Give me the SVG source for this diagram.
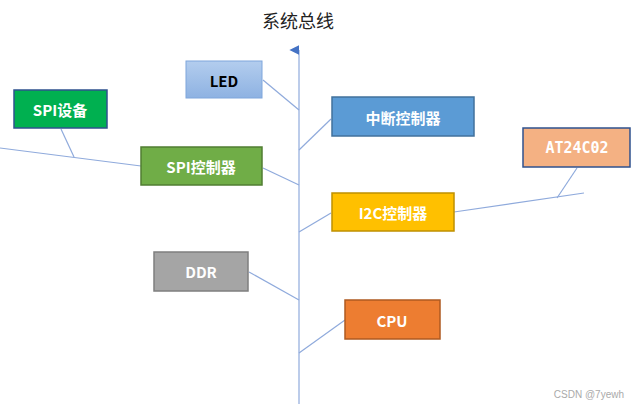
<svg xmlns="http://www.w3.org/2000/svg" width="631" height="404" viewBox="0 0 631 404">
<style>
.c line{stroke:#8faadc;stroke-width:1.2}
.n text{font-family:"Noto Sans CJK SC","Liberation Sans",sans-serif;font-weight:bold;font-size:15px;fill:#fff;text-anchor:middle;dominant-baseline:central}
.m{font-family:"DejaVu Sans Mono","Liberation Mono",monospace!important}
</style>
<defs>
<linearGradient id="g" x1="0" y1="0" x2="0" y2="1"><stop offset="0" stop-color="#b3cdee"/><stop offset="1" stop-color="#8eb2e2"/></linearGradient>
<marker id="a" viewBox="0 0 10 10" refX="5" refY="10" markerWidth="8" markerHeight="8" orient="auto-start-reverse"><path d="M0,10 L5,0 L10,10Z" fill="#4472c4"/></marker>
</defs>
<rect width="631" height="404" fill="#fff"/>
<text x="298" y="28" font-family="Noto Sans CJK SC,sans-serif" font-size="18" text-anchor="middle" fill="#222">系统总线</text>
<g class="c">
<line x1="299" y1="404" x2="299" y2="50" style="stroke:#8faadc" marker-end="url(#a)"/>
<line x1="263" y1="80" x2="299" y2="110"/>
<line x1="61" y1="129" x2="74" y2="157"/>
<line x1="0" y1="148" x2="141" y2="166"/>
<line x1="263" y1="168" x2="299" y2="185"/>
<line x1="331" y1="119" x2="299" y2="150"/>
<line x1="577" y1="168" x2="557" y2="198"/>
<line x1="454" y1="212" x2="584" y2="193"/>
<line x1="331" y1="213" x2="299" y2="232"/>
<line x1="249" y1="272" x2="299" y2="300"/>
<line x1="345" y1="320" x2="299" y2="353"/>
</g>
<g id="led" class="n"><rect x="186" y="61" width="76" height="37" fill="url(#g)" stroke="#7fa6dc"/><text x="224" y="80" style="fill:#000">LED</text></g>
<g id="spidev" class="n"><rect x="14" y="90" width="93" height="38" fill="#00b050" stroke="#2f528f" stroke-width="1.5"/><text x="60" y="109">SPI设备</text></g>
<g id="spictl" class="n"><rect x="141" y="147" width="121" height="38" fill="#70ad47" stroke="#507e32" stroke-width="1.5"/><text x="201" y="166">SPI控制器</text></g>
<g id="irq" class="n"><rect x="332" y="97" width="142" height="39" fill="#5b9bd5" stroke="#41719c" stroke-width="1.5"/><text x="403" y="117">中断控制器</text></g>
<g id="at24" class="n"><rect x="523" y="128" width="107" height="39" fill="#f4b183" stroke="#2f528f" stroke-width="1.5"/><text class="m" x="577" y="148">AT24C02</text></g>
<g id="i2c" class="n"><rect x="332" y="193" width="122" height="38" fill="#ffc000" stroke="#bf9000" stroke-width="1.5"/><text x="393" y="212">I2C控制器</text></g>
<g id="ddr" class="n"><rect x="154" y="252" width="94" height="39" fill="#a5a5a5" stroke="#7f7f7f" stroke-width="1.5"/><text x="201" y="271">DDR</text></g>
<g id="cpu" class="n"><rect x="345" y="300" width="95" height="39" fill="#ed7d31" stroke="#ae5a21" stroke-width="1.5"/><text x="392" y="320">CPU</text></g>
<text x="624" y="398" font-family="Liberation Sans,sans-serif" font-size="10" fill="#aaa" text-anchor="end">CSDN @7yewh</text>
</svg>
